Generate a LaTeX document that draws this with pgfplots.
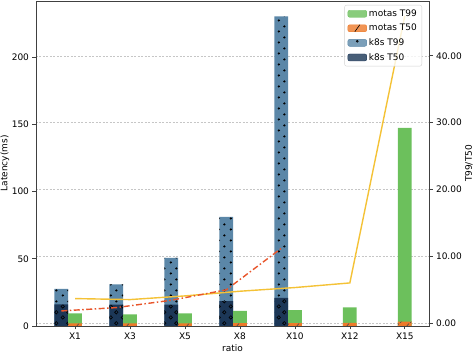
\documentclass[border=0pt]{standalone}
\usepackage{pgfplots}
\pgfplotsset{compat=1.18}
\usepackage{fontspec}
\setmainfont{DejaVu Sans}
\usetikzlibrary{patterns}
\definecolor{mgreen}{HTML}{6CC05C}
\definecolor{morange}{HTML}{EE7A2A}
\definecolor{klight}{HTML}{5B87A8}
\definecolor{knavy}{HTML}{1C3757}
\definecolor{lyellow}{HTML}{F4C236}
\definecolor{lred}{HTML}{E8552B}
\definecolor{spine}{HTML}{404040}

\pgfdeclarepatternformonly{bigdots}{\pgfqpoint{0pt}{0pt}}{\pgfqpoint{12pt}{11pt}}{\pgfqpoint{12pt}{11pt}}{%
 \pgfpathcircle{\pgfqpoint{3pt}{2.75pt}}{1.35pt}%
 \pgfpathcircle{\pgfqpoint{9pt}{8.25pt}}{1.35pt}%
 \pgfusepath{fill}}
\pgfdeclarepatternformonly{rings}{\pgfqpoint{0pt}{0pt}}{\pgfqpoint{12pt}{11pt}}{\pgfqpoint{12pt}{11pt}}{%
 \pgfsetlinewidth{0.7pt}%
 \pgfpathcircle{\pgfqpoint{3pt}{2.75pt}}{1.8pt}%
 \pgfpathcircle{\pgfqpoint{9pt}{8.25pt}}{1.8pt}%
 \pgfusepath{stroke}}
\pgfdeclarepatternformonly{sparselines}{\pgfqpoint{0pt}{0pt}}{\pgfqpoint{10pt}{10pt}}{\pgfqpoint{10pt}{10pt}}{%
 \pgfsetlinewidth{0.6pt}%
 \pgfpathmoveto{\pgfqpoint{0pt}{0pt}}\pgfpathlineto{\pgfqpoint{10pt}{10pt}}%
 \pgfusepath{stroke}}

\begin{document}
\begin{tikzpicture}
\pgfplotsset{every axis/.append style={
  scale only axis, width=393pt, height=325pt,
  xmin=-0.71, xmax=6.44,
  font=\fontsize{9}{11}\selectfont,
  /pgf/number format/assume math mode=true,
  tick align=outside, major tick length=3.5pt,
  axis line style={spine, line width=0.7pt},
  every tick/.style={spine, line width=0.7pt},
}}
% right axis: grid + ticks
\begin{axis}[
  ymin=-0.4, ymax=48.2,
  ytick={0,10,20,30,40},
  ytick pos=right, yticklabel pos=right,
  xtick=\empty,
  yticklabel style={/pgf/number format/.cd, fixed, fixed zerofill, precision=2},
  ymajorgrids,
  major grid style={gray!45, dash pattern=on 2pt off 1.5pt, line width=0.5pt},
  ylabel={T99/T50},
  ylabel style={at={(rel axis cs:1,0.5)}, anchor=center, rotate=0, yshift=-40pt},
]
\addplot[draw=none, forget plot] coordinates {(0,0)};
\end{axis}
% left axis: bars
\begin{axis}[
  name=ax,
  ymin=0, ymax=242,
  ytick={0,50,100,150,200},
  ytick pos=left, xtick pos=bottom,
  xtick={0,1,2,3,4,5,6},
  xticklabels={X1,X3,X5,X8,X10,X12,X15},
  xlabel={ratio},
  ylabel={Latency(ms)},
  ylabel style={at={(rel axis cs:0,0.5)}, anchor=center, yshift=31pt},
  xlabel style={at={(rel axis cs:0.5,0)}, anchor=center, yshift=-22pt},
]
\addplot[ybar, bar width=0.25, bar shift=0pt, fill=klight, draw=none,
  postaction={pattern=bigdots, pattern color=black}]
  coordinates {(-0.25,27.7) (0.75,31) (1.75,50.8) (2.75,81.3) (3.75,230.5)};
\addplot[ybar, bar width=0.25, bar shift=0pt, fill=knavy, draw=none,
  postaction={pattern=rings, pattern color=black}]
  coordinates {(-0.25,16.1) (0.75,16) (1.75,16) (2.75,18.6) (3.75,21)};
\addplot[ybar, bar width=0.25, bar shift=0pt, fill=mgreen, draw=none]
  coordinates {(0,9.4) (1,8.7) (2,9.4) (3,11.2) (4,11.9) (5,13.9) (6,147.5)};
\addplot[ybar, bar width=0.25, bar shift=0pt, fill=morange, draw=none,
  postaction={pattern=sparselines, pattern color=black!70}]
  coordinates {(0,2.0) (1,1.9) (2,2.0) (3,2.1) (4,2.2) (5,2.3) (6,3.2)};
\end{axis}
% overlay: lines + legend
\begin{axis}[
  hide axis,
  ymin=-0.4, ymax=48.2,
  legend cell align=left,
  legend style={at={(1,1)}, anchor=north east, xshift=-7pt, yshift=-4pt,
    draw=gray!35, rounded corners=2pt, fill=white, fill opacity=0.8, text opacity=1,
    font=\fontsize{9}{11}\selectfont, row sep=2.3pt, inner xsep=3pt, inner ysep=2.5pt},
]
\addlegendimage{legend image code/.code={\fill[mgreen] (0pt,-3.5pt) rectangle (19pt,3.5pt);}}
\addlegendentry{motas T99}
\addlegendimage{legend image code/.code={\fill[morange] (0pt,-3.5pt) rectangle (19pt,3.5pt); \draw[black, line width=0.6pt] (7pt,-3.5pt) -- (12pt,3.5pt);}}
\addlegendentry{motas T50}
\addlegendimage{legend image code/.code={\fill[klight] (0pt,-3.5pt) rectangle (19pt,3.5pt); \fill[black] (9.5pt,1.5pt) circle (1.1pt);}}
\addlegendentry{k8s T99}
\addlegendimage{legend image code/.code={\fill[knavy] (0pt,-3.5pt) rectangle (19pt,3.5pt);}}
\addlegendentry{k8s T50}
\addplot[lyellow, line width=1.4pt, forget plot]
  coordinates {(0,3.7) (1,3.55) (2,4.1) (3,4.8) (4,5.35) (5,6.04) (6,46)};
\addplot[lred, line width=1.4pt, dash pattern=on 6pt off 2.5pt on 1.5pt off 2.5pt, forget plot]
  coordinates {(-0.25,1.85) (0.75,2.35) (1.75,3.45) (2.75,5.0) (3.75,11.2)};
\end{axis}
\pgfresetboundingbox
\path[use as bounding box] ([xshift=-36pt,yshift=-27pt]ax.south west) rectangle ([xshift=45pt,yshift=1pt]ax.north east);
\end{tikzpicture}
\end{document}
